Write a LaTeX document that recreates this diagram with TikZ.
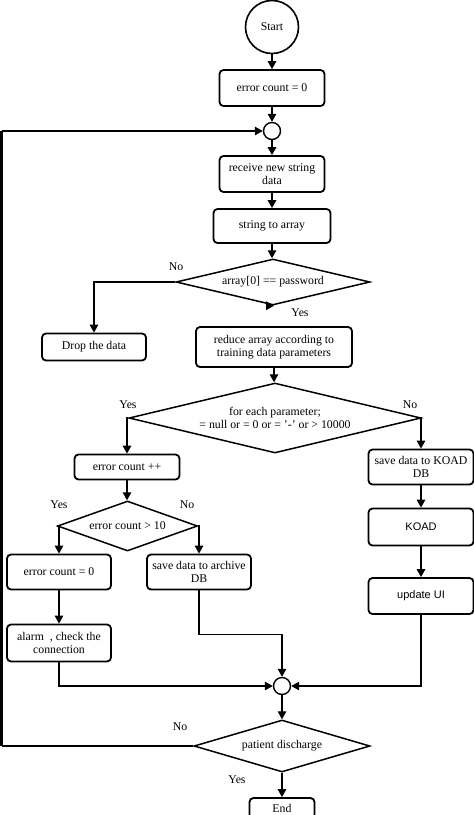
\documentclass[tikz,border=0pt]{standalone}
\usepackage{fontspec}
\setmainfont{Liberation Serif}
\newfontfamily\arialfont{Liberation Sans}
\usetikzlibrary{shapes.geometric,arrows.meta}
\begin{document}
\begin{tikzpicture}[x=1pt,y=-1pt,
  every node/.style={font=\fontsize{11.8}{13.5}\selectfont},
  box/.style={draw,line width=1.8pt,rounded corners=4pt,align=center,inner sep=1pt},
  dia/.style={draw,diamond,line width=1.5pt,align=center,inner sep=0pt},
  jn/.style={draw,circle,line width=1.4pt,minimum size=17pt,inner sep=0pt},
  lbl/.style={inner sep=0pt},
  conn/.style={line width=1.4pt,-{Triangle[length=8pt,width=8.5pt]}},
  plain/.style={line width=1.4pt}]
\useasboundingbox (0,0) rectangle (474,815);
\fill[white] (0,0) rectangle (474,815);

\node[draw,circle,line width=1.6pt,minimum size=53pt,inner sep=0pt] (start) at (272,27) {Start};
\node[box,minimum width=105pt,minimum height=36pt] (ec0) at (272,88) {error count = 0};
\node[jn] (j1) at (272,131) {};
\node[box,minimum width=105pt,minimum height=36pt] (recv) at (272,174) {receive new string\\data};
\node[box,minimum width=117pt,minimum height=34pt] (s2a) at (272,226) {string to array};
\node[dia,aspect=4.2,minimum width=194pt,minimum height=46pt] (d1) at (273,282) {array[0] == password};
\node[box,minimum width=104pt,minimum height=27pt] (drop) at (94,347) {Drop the data};
\node[box,minimum width=156pt,minimum height=40pt] (reduce) at (274,347) {reduce array according to\\training data parameters};
\node[dia,aspect=4.1,minimum width=292pt,minimum height=70pt] (d2) at (275,418) {for each parameter;\\= null or = 0 or = '-' or > 10000};
\node[box,minimum width=105pt,minimum height=25pt] (ecpp) at (127,467) {error count ++};
\node[box,minimum width=105pt,minimum height=35pt] (kdb) at (421,467) {save data to KOAD\\DB};
\node[dia,aspect=2.8,minimum width=140pt,minimum height=50pt] (d3) at (127.5,526) {error count > 10};
\node[box,minimum width=104pt,minimum height=35pt] (ec0b) at (59,572) {error count = 0};
\node[box,minimum width=104pt,minimum height=35pt] (arch) at (199,572) {save data to archive\\DB};
\node[box,minimum width=104pt,minimum height=37pt] (alarm) at (59,643) {alarm~~, check the\\connection};
\node[box,minimum width=105pt,minimum height=37pt,font=\arialfont\fontsize{11}{13}\selectfont] (koad) at (421,527) {KOAD};
\node[box,minimum width=105pt,minimum height=36pt,font=\arialfont\fontsize{11}{13}\selectfont] (upd) at (421,596) {update UI};
\node[jn] (j2) at (282,686) {};
\node[dia,aspect=3.4,minimum width=176pt,minimum height=52pt] (d4) at (282,746) {patient discharge};
\node[box,minimum width=65pt,minimum height=21pt] (end) at (282,808.5) {End};

\node[lbl] (l1) at (176,267) {No};
\node[lbl] (l2) at (300,313) {Yes};
\node[lbl] (l3) at (128,405) {Yes};
\node[lbl] (l4) at (410,405) {No};
\node[lbl] (l5) at (59,505) {Yes};
\node[lbl] (l6) at (187,505) {No};
\node[lbl] (l7) at (180,727) {No};
\node[lbl] (l8) at (237,780) {Yes};

\coordinate (lt) at (1.5,131);
\coordinate (lb) at (1.5,746);

\draw[conn] (start) -- (ec0);
\draw[conn] (ec0) -- (j1);
\draw[conn] (j1) -- (recv);
\draw[conn] (recv) -- (s2a);
\draw[conn] (s2a) -- (s2a.south |- d1.north);
\draw[conn] (d1.west) -| (drop.north);
\draw[conn] (d1.south) -- (d1.south -| reduce.north);
\draw[conn] (reduce) -- (reduce.south |- d2.north);
\draw[conn] (d2.west) -| (ecpp.north);
\draw[conn] (d2.east) -| (kdb.north);
\draw[conn] (ecpp) -- (ecpp.south |- d3.north);
\draw[conn] (d3.west) -| (ec0b.north);
\draw[conn] (d3.east) -| (arch.north);
\draw[conn] (ec0b) -- (alarm);
\draw[conn] (kdb) -- (koad);
\draw[conn] (koad) -- (upd);
\draw[conn] (arch.south) -- ++(0,44) -| (j2.north);
\draw[conn] (alarm.south) |- (j2.west);
\draw[conn] (upd.south) |- (j2.east);
\draw[conn] (j2) -- (d4.north);
\draw[conn] (d4.south) -- (end.north);
\draw[plain] (d4.west) -- (lb);
\draw[line width=2.6pt] (lb) -- (lt);
\draw[conn] (lt) -- (j1.west);
\end{tikzpicture}
\end{document}
